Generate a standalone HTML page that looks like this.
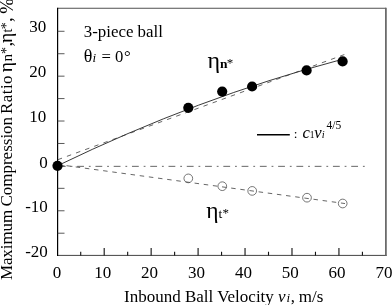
<!DOCTYPE html><html><head><meta charset="utf-8"><title>Maximum Compression Ratio</title>
<style>html,body{margin:0;padding:0;background:#fff;overflow:hidden}svg{display:block}text{font-family:"Liberation Serif","DejaVu Serif",serif;fill:#000}</style></head><body>
<svg width="392" height="305" viewBox="0 0 392 305">
<rect width="392" height="305" fill="#fff"/>
<path d="M57.6 8.25H385.9" fill="none" stroke="#505050" stroke-width="1"/>
<path d="M57.6 255.4H386.7" fill="none" stroke="#444" stroke-width="1"/>
<path d="M385.9 7.85V255.8" fill="none" stroke="#646464" stroke-width="1.7"/>
<path d="M57.6 7.75V255.9" fill="none" stroke="#000" stroke-width="1.2"/>
<path d="M57.6 233.21H64.5M57.6 210.77H64.5M57.6 188.34H64.5M57.6 165.90H64.5M57.6 143.47H64.5M57.6 121.03H64.5M57.6 98.59H64.5M57.6 76.16H64.5M57.6 53.73H64.5M57.6 31.29H64.5" fill="none" stroke="#3c3c3c" stroke-width="0.85"/>
<path d="M80.72 255.4v-3.7M104.19 255.4v-7.3M127.67 255.4v-3.7M151.14 255.4v-7.3M174.62 255.4v-3.7M198.09 255.4v-7.3M221.57 255.4v-3.7M245.04 255.4v-7.3M268.51 255.4v-3.7M291.99 255.4v-7.3M315.47 255.4v-3.7M338.94 255.4v-7.3M362.42 255.4v-3.7" fill="none" stroke="#111" stroke-width="1.1"/>
<path d="M58.9 166.35H365.3" fill="none" stroke="#333" stroke-width="0.75" stroke-dasharray="6.8 4.9 1.8 4.77"/>
<path d="M57.6 165.7Q198.5 97.5 339.5 60.1" fill="none" stroke="#222" stroke-width="0.9"/>
<path d="M57.8 159.7L344.8 54.4" fill="none" stroke="#333" stroke-width="0.75" stroke-dasharray="4.5 5.2"/>
<path d="M57.4 164.45L345 203.55" fill="none" stroke="#333" stroke-width="0.75" stroke-dasharray="4.5 4.73"/>
<circle cx="57.5" cy="165.8" r="5.1" fill="#000"/>
<circle cx="188.3" cy="107.8" r="5.1" fill="#000"/>
<circle cx="222.2" cy="91.6" r="5.1" fill="#000"/>
<circle cx="252.1" cy="86.5" r="5.1" fill="#000"/>
<circle cx="306.6" cy="70.4" r="5.1" fill="#000"/>
<circle cx="342.6" cy="61.4" r="5.1" fill="#000"/>
<circle cx="188.3" cy="178.4" r="4.35" fill="none" stroke="#4a4a4a" stroke-width="0.75"/>
<circle cx="222.3" cy="186.2" r="4.35" fill="none" stroke="#4a4a4a" stroke-width="0.75"/>
<circle cx="252.2" cy="190.9" r="4.35" fill="none" stroke="#4a4a4a" stroke-width="0.75"/>
<circle cx="307" cy="197.7" r="4.35" fill="none" stroke="#4a4a4a" stroke-width="0.75"/>
<circle cx="342.7" cy="203.5" r="4.35" fill="none" stroke="#4a4a4a" stroke-width="0.75"/>
<text x="47.8" y="256.8" font-size="17" text-anchor="end">-20</text>
<text x="47.8" y="212.0" font-size="17" text-anchor="end">-10</text>
<text x="47.7" y="167.6" font-size="17" text-anchor="end">0</text>
<text x="46.3" y="121.8" font-size="17" text-anchor="end">10</text>
<text x="46.3" y="77.3" font-size="17" text-anchor="end">20</text>
<text x="46.3" y="32.0" font-size="17" text-anchor="end">30</text>
<text x="56.9" y="277.6" font-size="17" text-anchor="middle">0</text>
<text x="102.7" y="277.6" font-size="17" text-anchor="middle">10</text>
<text x="149.6" y="277.6" font-size="17" text-anchor="middle">20</text>
<text x="196.5" y="277.6" font-size="17" text-anchor="middle">30</text>
<text x="243.4" y="277.6" font-size="17" text-anchor="middle">40</text>
<text x="290.2" y="277.6" font-size="17" text-anchor="middle">50</text>
<text x="337.1" y="277.6" font-size="17" text-anchor="middle">60</text>
<text x="384.0" y="277.6" font-size="17" text-anchor="middle">70</text>
<text x="124" y="301.8" font-size="17">Inbound Ball Velocity <tspan font-style="italic">v</tspan><tspan font-style="italic" font-size="13" dx="0.9">i</tspan><tspan dx="0.7">,</tspan><tspan dx="-0.6"> m/s</tspan></text>
<text transform="translate(12.1 279.8) rotate(-90)" font-size="17"><tspan x="-0.3" letter-spacing="-0.1">Maximum </tspan><tspan x="73.2">Compression </tspan><tspan x="165.9" letter-spacing="0.4">Ratio </tspan><tspan x="207.45" y="0" font-size="19.5">η</tspan><tspan x="218.3" font-size="15">n</tspan><tspan x="225.7" y="-1" font-size="14">*</tspan><tspan x="233.2" y="0" font-size="19">,</tspan><tspan x="236.9" font-size="19.5">η</tspan><tspan x="247.4" font-size="14">t</tspan><tspan x="250.6" y="-1" font-size="14">*</tspan><tspan x="257.8" y="0" font-size="19">,</tspan><tspan x="266.1" y="0.6" font-size="18.5">%</tspan></text>
<text x="83.7" y="36.7" font-size="16.9">3-piece ball</text>
<text x="83.7" y="62.2" font-size="16.67"><tspan font-size="18">θ</tspan><tspan x="92.5" font-style="italic" font-size="13">i</tspan><tspan x="101.5">=</tspan><tspan x="115.1">0</tspan><tspan x="123.9">°</tspan></text>
<text x="207.5" y="67.7" font-size="24">η<tspan x="220.1" font-size="13.5" font-weight="bold">n</tspan><tspan x="226.8" dy="-0.9" font-size="13">*</tspan></text>
<text x="206.3" y="217.7" font-size="23.5">η<tspan x="218.5" font-size="13.5">t</tspan><tspan x="222.5" dy="-1.2" font-size="13">*</tspan></text>
<path d="M257 134.65H289.8" fill="none" stroke="#000" stroke-width="1.45"/>
<text x="293.7" y="138.1" font-size="16.67"><tspan font-size="13.4">:</tspan><tspan x="302.5" font-style="italic">c</tspan><tspan x="309.8" font-size="9.5">1</tspan><tspan x="314.2" font-style="italic">v</tspan><tspan x="321.8" font-style="italic" font-size="10.5">i</tspan></text>
<text x="326.6" y="129" font-size="11.5">4/5</text>
</svg></body></html>
